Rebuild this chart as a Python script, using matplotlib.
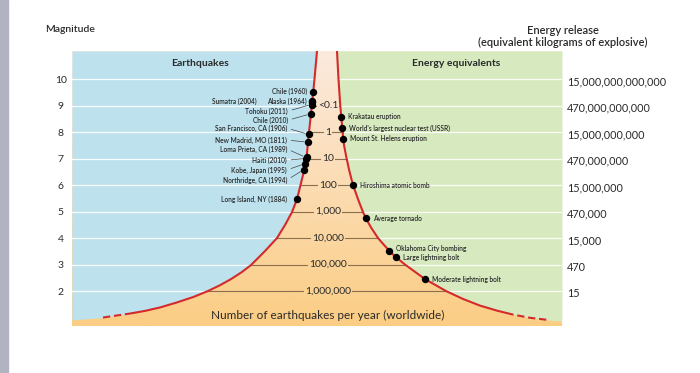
# Earthquake magnitude / frequency / energy funnel chart.

import numpy as np
import matplotlib.pyplot as plt
from matplotlib.colors import LinearSegmentedColormap
from matplotlib.patches import Rectangle

plt.rcParams['font.family'] = ['Lato', 'DejaVu Sans']

# Magnitude axis and the two label columns
magnitudes = [2, 3, 4, 5, 6, 7, 8, 9, 10]
energy_kg = ['15', '470', '15,000', '470,000', '15,000,000', '470,000,000',
             '15,000,000,000', '470,000,000,000', '15,000,000,000,000']
count_mags = [2, 3, 4, 5, 6, 7, 8, 9]
count_labels = ['1,000,000', '100,000', '10,000', '1,000', '100', '10', '1', '<0.1']

# Funnel outline: horizontal position vs magnitude
left_x = [72, 103, 130, 145, 160, 177, 193, 208, 220, 231, 242, 251, 264.5,
          277, 285, 292, 297, 300.5, 304, 306.5, 309, 311.8, 314.5, 317]
left_m = [0.91, 1.00, 1.15, 1.25, 1.38, 1.57, 1.77, 2.00, 2.22, 2.45, 2.72,
          2.98, 3.49, 4.00, 4.49, 4.98, 5.47, 6.00, 6.53, 7.02, 8.00, 8.98,
          10.00, 11.06]
right_x = [562, 550, 530, 513, 497, 480, 463, 446, 425, 405, 396, 391, 384,
           378, 371, 366, 363, 358, 353, 349.5, 346.5, 344, 342.6, 341.4,
           340.3, 338.5, 337]
right_m = [0.87, 0.90, 0.99, 1.11, 1.26, 1.45, 1.70, 2.00, 2.45, 3.00, 3.28,
           3.45, 3.74, 4.00, 4.40, 4.74, 4.98, 5.47, 6.00, 6.51, 7.02, 7.51,
           8.00, 8.53, 8.98, 10.00, 11.06]

# Earthquakes (left side)
quakes = ['Chile (1960)', 'Alaska (1964)', 'Sumatra (2004)', 'Tohoku (2011)',
          'Chile (2010)', 'San Francisco, CA (1906)', 'New Madrid, MO (1811)',
          'Loma Prieta, CA (1989)', 'Haiti (2010)', 'Kobe, Japan (1995)',
          'Northridge, CA (1994)', 'Long Island, NY (1884)']
quake_mag = [9.53, 9.17, 9.12, 9.04, 8.68, 7.92, 7.62, 7.05, 7.0, 6.8, 6.57, 5.47]

# Energy equivalents (right side)
events = ['Krakatau eruption', "World's largest nuclear test (USSR)",
          'Mount St. Helens eruption', 'Hiroshima atomic bomb', 'Average tornado',
          'Oklahoma City bombing', 'Large lightning bolt', 'Moderate lightning bolt']
event_mag = [8.57, 8.15, 7.74, 6.00, 4.75, 3.52, 3.28, 2.45]

# Label placement for the earthquake names (right edge x, y, leader line?)
quake_label_x = [307, 307, 257, 288, 288, 287, 287, 287, 287, 287, 287, 287]
quake_label_y = [9.53, 9.17, 9.17, 8.79, 8.45, 8.15, 7.70, 7.36, 6.94, 6.57, 6.19, 5.47]
quake_leader = [False, False, False, True, True, True, True, True, True, True, True, False]
event_dy = [0, 0, 0, 0, 0, 0.08, 0, 0]

# Colours
blue = '#bde2ee'
green = '#d7eabf'
red = '#d42a2a'
dark = '#2a2a2a'
rule = '#8b6f4e'

xmin, xmax = 72, 562
ymin, ymax = 0.68, 11.06


def main():
    fig = plt.figure(figsize=(7.0, 3.73), dpi=100)
    fig.patches.append(Rectangle((0, 0), 8 / 700, 1, transform=fig.transFigure,
                                 color='#b1b3c3', zorder=0))
    ax = fig.add_axes([72 / 700, 1 - 326 / 373, 490 / 700, 275 / 373])

    # Orange gradient background (below / between the curves)
    cmap = LinearSegmentedColormap.from_list('orange', ['#fbcd84', '#fbeadf'])
    grad = np.linspace(0, 1, 256).reshape(-1, 1)
    ax.imshow(grad, extent=[xmin, xmax, ymin, ymax], origin='lower',
              aspect='auto', cmap=cmap, zorder=0)

    # Blue and green sides
    ax.fill_betweenx(left_m, xmin, left_x, color=blue, lw=0, zorder=1)
    ax.fill_betweenx(right_m, right_x, xmax, color=green, lw=0, zorder=1)

    # White grid on the coloured sides
    for m in magnitudes:
        lx = np.interp(m, left_m, left_x)
        rx = np.interp(m, right_m, right_x)
        ax.plot([xmin, lx], [m, m], color='white', lw=0.9, alpha=0.9, zorder=2)
        ax.plot([rx, xmax], [m, m], color='white', lw=0.9, alpha=0.9, zorder=2)

    # Number of earthquakes per year rules
    for m, lab in zip(count_mags, count_labels):
        lx = np.interp(m, left_m, left_x)
        rx = np.interp(m, right_m, right_x)
        ax.plot([lx, rx], [m, m], color=rule, lw=0.8, zorder=2)
        bg = cmap((m - ymin) / (ymax - ymin))
        ax.text(328, m, lab, ha='center', va='center', fontsize=7.5, color=dark,
                zorder=3, bbox=dict(boxstyle='square,pad=0.12', fc=bg, ec='none'))

    # Curves: solid part and dashed tails
    lx = np.array(left_x)
    lm = np.array(left_m)
    rx = np.array(right_x)
    rm = np.array(right_m)
    solid_l = lm >= 1.15
    dash_l = (lm >= 1.00) & (lm <= 1.15)
    solid_r = rm >= 1.11
    dash_r = (rm >= 0.90) & (rm <= 1.11)
    ax.plot(lx[solid_l], lm[solid_l], color=red, lw=1.5, zorder=4, solid_capstyle='butt')
    ax.plot(lx[dash_l], lm[dash_l], color=red, lw=1.5, ls=(0, (3.5, 1.8)), zorder=4)
    ax.plot(rx[solid_r], rm[solid_r], color=red, lw=1.5, zorder=4, solid_capstyle='butt')
    ax.plot(rx[dash_r], rm[dash_r], color=red, lw=1.5, ls=(3.5, (3.5, 1.8)), zorder=4)

    # Earthquake dots and labels
    qx = np.interp(quake_mag, left_m, left_x)
    ax.plot(qx, quake_mag, 'o', color='black', ms=4.3, zorder=5)
    for name, x, m, tx, ty, lead in zip(quakes, qx, quake_mag, quake_label_x,
                                        quake_label_y, quake_leader):
        if lead:
            ax.annotate(name, xy=(x - 1, m), xytext=(tx, ty), ha='right', va='center',
                        fontsize=4.8, fontweight='semibold', color=dark, zorder=5,
                        arrowprops=dict(arrowstyle='-', lw=0.5, color='#444',
                                        relpos=(1, 0.5), shrinkA=1, shrinkB=2))
        else:
            ax.text(tx, ty, name, ha='right', va='center', fontsize=4.8,
                    fontweight='semibold', color=dark, zorder=5)

    # Energy equivalent dots and labels
    ex = np.interp(event_mag, right_m, right_x)
    ax.plot(ex, event_mag, 'o', color='black', ms=4.3, zorder=5)
    for name, x, m, dy in zip(events, ex, event_mag, event_dy):
        ax.annotate(name, xy=(x, m + dy), xytext=(5, 0), textcoords='offset points',
                    ha='left', va='center', fontsize=4.8, fontweight='semibold',
                    color=dark, zorder=5)

    # Headers inside the plot
    ax.text(200, 10.57, 'Earthquakes', ha='center', va='center', fontsize=7.5,
            fontweight='bold', color=dark)
    ax.text(456, 10.57, 'Energy equivalents', ha='center', va='center', fontsize=7.5,
            fontweight='bold', color=dark)
    ax.text(327.5, 1.06, 'Number of earthquakes per year (worldwide)', ha='center',
            va='center', fontsize=8.5, color=dark, zorder=5)

    # Axes
    ax.set_xlim(xmin, xmax)
    ax.set_ylim(ymin, ymax)
    ax.set_xticks([])
    ax.set_yticks(magnitudes)
    ax.set_yticklabels([str(m) for m in magnitudes], ha='center')
    ax.tick_params(axis='y', length=0, pad=8, labelsize=7.5, labelcolor=dark)
    for s in ax.spines.values():
        s.set_visible(False)

    # Right-hand energy column
    for m, lab in zip(magnitudes, energy_kg):
        ax.text(1.0102, m - 0.1, lab, transform=ax.get_yaxis_transform(),
                ha='left', va='center', fontsize=7.8, color=dark)

    fig.text(45 / 700, 1 - 30 / 373, 'Magnitude', ha='left', va='center',
             fontsize=7.5, fontweight='semibold', color=dark)
    fig.text(563 / 700, 1 - 36.5 / 373, 'Energy release\n(equivalent kilograms of explosive)',
             ha='center', va='center', fontsize=8, color=dark, linespacing=1.15,
             fontweight='semibold')

    fig.savefig('out.png', dpi=100)


if __name__ == "__main__":
    main()
